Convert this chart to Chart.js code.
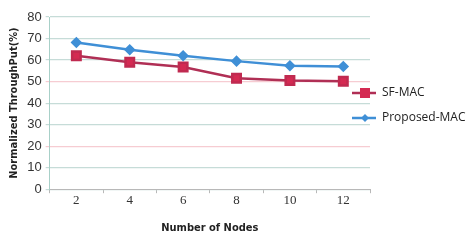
<!DOCTYPE html>
<html>
<head>
<meta charset="utf-8">
<script src="https://cdn.jsdelivr.net/npm/chart.js@4/dist/chart.umd.min.js"></script>
<style>
  html, body { margin: 0; padding: 0; background: #fff; }
  #wrap { width: 474px; height: 240px; }
</style>
</head>
<body>
<div id="wrap"><canvas id="chart" width="474" height="240"></canvas></div>
<script>
const nodes = ['2', '4', '6', '8', '10', '12'];
const sfMac = [62, 59, 56.8, 51.5, 50.5, 50.2];
const proposedMac = [68.2, 64.8, 62, 59.5, 57.4, 57];
const seriesNames = ['SF-MAC', 'Proposed-MAC'];

// line + marker legend drawn beside the plot, overlapping its right edge like the original
const sideLegend = {
    id: 'sideLegend',
    afterDraw(chart) {
        const c = chart.ctx;
        const x0 = 352, x1 = 376;
        const ys = [93, 118];
        c.save();
        chart.data.datasets.forEach((ds, i) => {
            const y = ys[i];
            c.strokeStyle = ds.borderColor;
            c.lineWidth = 2.5;
            c.beginPath();
            c.moveTo(x0, y);
            c.lineTo(x1, y);
            c.stroke();
            c.fillStyle = ds.pointBackgroundColor;
            const mx = (x0 + x1) / 2 + 1;
            if (ds.pointStyle === 'rect') {
                c.fillRect(mx - 5, y - 5, 10, 10);
            } else {
                c.beginPath();
                c.moveTo(mx, y - 4);
                c.lineTo(mx + 4, y);
                c.lineTo(mx, y + 4);
                c.lineTo(mx - 4, y);
                c.closePath();
                c.fill();
            }
            c.fillStyle = '#222';
            c.font = '12px "Open Sans", "Liberation Sans", sans-serif';
            c.textBaseline = 'middle';
            c.fillText(ds.label, 382, y);
        });
        c.restore();
    }
};

new Chart(document.getElementById('chart').getContext('2d'), {
    type: 'line',
    data: {
        labels: nodes,
        datasets: [{
            label: seriesNames[0],
            data: sfMac,
            borderColor: '#b02f55',
            backgroundColor: '#d42a52',
            pointBackgroundColor: '#d42a52',
            pointBorderColor: '#c02a50',
            pointStyle: 'rect',
            pointRadius: 6,
            borderWidth: 2.5,
            tension: 0
        }, {
            label: seriesNames[1],
            data: proposedMac,
            borderColor: '#3f8fd6',
            backgroundColor: '#3f8fd6',
            pointBackgroundColor: '#3f8fd6',
            pointBorderColor: '#3f8fd6',
            pointStyle: 'rectRot',
            pointRadius: 4,
            borderWidth: 2.5,
            tension: 0
        }]
    },
    options: {
        responsive: false,
        animation: false,
        layout: { padding: { left: 8, right: 104, top: 17, bottom: 5 } },
        plugins: {
            legend: { display: false },
            tooltip: { enabled: false }
        },
        scales: {
            x: {
                offset: true,
                grid: {
                    offset: true,
                    drawOnChartArea: false,
                    tickLength: 4,
                    color: '#b8b8b8'
                },
                border: { color: '#b8b8b8' },
                ticks: {
                    color: '#333',
                    font: { family: '"Liberation Serif", serif', size: 13 },
                    padding: 0
                },
                title: {
                    display: true,
                    text: 'Number of Nodes',
                    color: '#222',
                    font: { family: '"DejaVu Sans Condensed", "Liberation Sans", sans-serif', size: 11, weight: 'bold' },
                    padding: { top: 13, bottom: 0 }
                }
            },
            y: {
                min: 0,
                max: 80,
                ticks: {
                    stepSize: 10,
                    color: '#333',
                    font: { family: '"Liberation Sans", sans-serif', size: 13 },
                    padding: 4
                },
                grid: {
                    tickLength: 4,
                    color: ctx => (ctx.tick && (ctx.tick.value === 50 || ctx.tick.value === 20)) ? '#f6ccd2' : '#c6dcd8',
                    lineWidth: 1.2
                },
                border: { color: '#a8d0c8' },
                title: {
                    display: true,
                    text: 'Normalized ThroughPut(%)',
                    color: '#222',
                    font: { family: '"DejaVu Sans Condensed", "Liberation Sans", sans-serif', size: 11, weight: 'bold' },
                    padding: { top: 0, bottom: 2 }
                }
            }
        }
    },
    plugins: [sideLegend]
});
</script>
</body>
</html>
